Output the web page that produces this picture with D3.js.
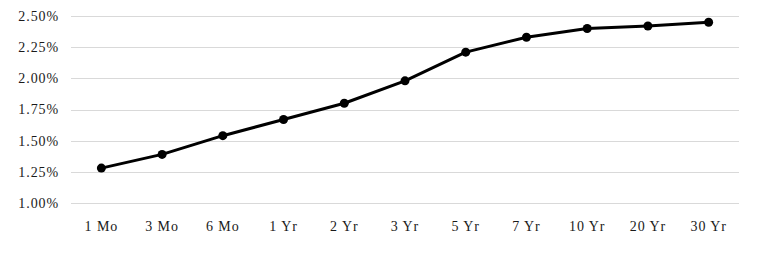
<!DOCTYPE html>
<html>
<head>
<meta charset="utf-8">
<script src="https://cdn.jsdelivr.net/npm/d3@7"></script>
<style>
  body { margin: 0; background: #fff; }
  text { font-family: "Liberation Serif", "Times New Roman", serif; font-size: 14px; fill: #1a1a1a; letter-spacing: 0.9px; }
</style>
</head>
<body>
<div id="vis1"></div>
<script>
// yield curve data
let terms = ['1 Mo', '3 Mo', '6 Mo', '1 Yr', '2 Yr', '3 Yr', '5 Yr', '7 Yr', '10 Yr', '20 Yr', '30 Yr'];
let yields = [1.28, 1.39, 1.54, 1.67, 1.80, 1.98, 2.21, 2.33, 2.40, 2.42, 2.45];
let yTicks = [1.00, 1.25, 1.50, 1.75, 2.00, 2.25, 2.50];

let margin = { top: 16, left: 71, right: 29, bottom: 56 },
  width = 768 - margin.left - margin.right,
  height = 259 - margin.top - margin.bottom;

let svg = d3.select('#vis1')
  .append('svg')
  .attr('width', 768)
  .attr('height', 259);

let g = svg.append('g')
  .attr('transform', `translate(${margin.left},${margin.top})`);

let x = d3.scaleBand()
  .domain(terms)
  .range([0, width])
  .padding(0);

let y = d3.scaleLinear()
  .domain([1.0, 2.5])
  .range([height, 0]);

// gridlines
g.selectAll('.grid')
  .data(yTicks)
  .enter().append('line')
  .attr('x1', 0)
  .attr('x2', width)
  .attr('y1', d => Math.round(y(d)) + 0.5)
  .attr('y2', d => Math.round(y(d)) + 0.5)
  .attr('stroke', '#d9d9d9')
  .attr('stroke-width', 1.2);

// y labels
let yAxis = d3.axisLeft(y)
  .tickValues(yTicks)
  .tickFormat(d => d.toFixed(2) + '%')
  .tickSize(0)
  .tickPadding(12);

g.append('g')
  .call(yAxis)
  .call(a => a.select('.domain').remove())
  .call(a => a.selectAll('text').attr('font-family', null).attr('font-size', null));

// x labels
let xAxis = d3.axisBottom(x)
  .tickSize(0)
  .tickPadding(18);

g.append('g')
  .attr('transform', `translate(0,${height})`)
  .call(xAxis)
  .call(a => a.select('.domain').remove())
  .call(a => a.selectAll('text').attr('font-family', null).attr('font-size', null));

let cx = d => x(d) + x.bandwidth() / 2;

let line = d3.line()
  .x((d, i) => cx(terms[i]))
  .y(d => y(d));

g.append('path')
  .datum(yields)
  .attr('d', line)
  .attr('fill', 'none')
  .attr('stroke', '#000')
  .attr('stroke-width', 3)
  .attr('stroke-linejoin', 'round');

g.selectAll('.dot')
  .data(yields)
  .enter().append('circle')
  .attr('cx', (d, i) => cx(terms[i]))
  .attr('cy', d => y(d))
  .attr('r', 4.5)
  .attr('fill', '#000');
</script>
</body>
</html>
